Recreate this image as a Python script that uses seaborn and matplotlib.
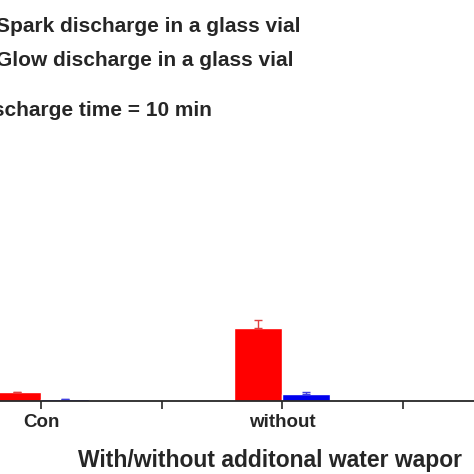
import matplotlib
matplotlib.use("Agg")
import matplotlib.pyplot as plt
import numpy as np
import pandas as pd
import seaborn as sns

categories = ["Con", "without", "with"]
spark = [2.2, 18.2, 74.0]
spark_err = [0.0, 2.0, 3.0]
glow = [0.5, 1.7, 3.0]
glow_err = [0.0, 0.5, 0.5]

xs = np.arange(len(categories))
df = pd.DataFrame({
    "pos": np.concatenate([xs, xs]),
    "value": spark + glow,
    "type": ["Spark"] * 3 + ["Glow"] * 3,
})

sns.set_style("white")
plt.rcParams["font.family"] = ["Liberation Sans", "DejaVu Sans"]

fig = plt.figure(figsize=(4.74, 4.74), dpi=100)
ax = fig.add_axes([0, 73 / 474, 1, 401 / 474])
sns.barplot(data=df, x="pos", y="value", hue="type", native_scale=True,
            hue_order=["Spark", "Glow"], palette=["#ff0000", "#0000ee"],
            width=0.4, dodge=True, legend=False, ax=ax, saturation=1, errorbar=None)
ax.errorbar(xs - 0.1, spark, yerr=[np.zeros(3), spark_err], fmt="none", ecolor="#e04040", capsize=3, lw=1)
ax.errorbar(xs + 0.1, glow, yerr=[np.zeros(3), glow_err], fmt="none", ecolor="#4040e0", capsize=3, lw=1)

for s in ["top", "right", "left"]:
    ax.spines[s].set_visible(False)
ax.spines["bottom"].set_linewidth(1.3)
ax.set_yticks([])
ax.set_xticks(xs, categories)
ax.set_xticks([0.5, 1.5], minor=True)
ax.tick_params(axis="x", which="both", direction="out", length=6, width=1.2, bottom=True, labelsize=13.5)
for lab in ax.get_xticklabels():
    lab.set_fontweight("bold")
ax.set_ylabel("")
ax.set_xlabel("")
ax.set_autoscale_on(False)
ax.set_xlim(-41 / 241, 433 / 241)
ax.set_ylim(0, 100)

fig.text(78 / 474, 1 - 460 / 474, "With/without additonal water wapor", fontsize=16.5,
         fontweight="bold", va="center", ha="left")
fig.text(-0.008, 1 - 27 / 474, "Spark discharge in a glass vial", fontsize=15, fontweight="bold", va="center")
fig.text(-0.008, 1 - 60 / 474, "Glow discharge in a glass vial", fontsize=15, fontweight="bold", va="center")
fig.text(-0.06, 1 - 111 / 474, "Discharge time = 10 min", fontsize=15, fontweight="bold", va="center")

fig.savefig("out.png", dpi=100)
